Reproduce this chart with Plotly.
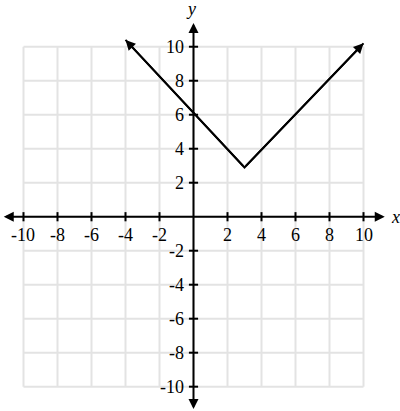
import plotly.graph_objects as go

# absolute value graph
curve_x = [-4.0, 3.0, 10.0]
curve_y = [10.4, 2.9, 10.2]

ticks = [-10, -8, -6, -4, -2, 2, 4, 6, 8, 10]
tick_labels = ["-10", "-8", "-6", "-4", "-2", "2", "4", "6", "8", "10"]
grid_vals = [-10, -8, -6, -4, -2, 0, 2, 4, 6, 8, 10]

serif = "'Liberation Serif', 'Times New Roman', serif"
font = dict(family=serif, size=18, color="black")

fig = go.Figure()

shapes = []
# light grid, only inside -10..10
for g in grid_vals:
    shapes.append(dict(type="line", x0=g, x1=g, y0=-10, y1=10,
                       line=dict(color="#e3e3e3", width=2), layer="below"))
    shapes.append(dict(type="line", x0=-10, x1=10, y0=g, y1=g,
                       line=dict(color="#e3e3e3", width=2), layer="below"))

# tick marks on the axes
for t in ticks:
    shapes.append(dict(type="line", x0=t, x1=t, y0=-0.27, y1=0.27,
                       line=dict(color="black", width=2)))
    shapes.append(dict(type="line", x0=-0.27, x1=0.27, y0=t, y1=t,
                       line=dict(color="black", width=2)))

fig.add_trace(go.Scatter(x=curve_x, y=curve_y, mode="lines",
                         line=dict(color="black", width=2),
                         hoverinfo="skip", showlegend=False))

arrow = dict(xref="x", yref="y", axref="x", ayref="y", text="",
             showarrow=True, arrowhead=2, arrowsize=1.0, arrowwidth=2,
             arrowcolor="black")

annotations = []
# axes with arrows at both ends
annotations.append(dict(arrow, x=11.25, y=0, ax=-11.25, ay=0,
                        arrowside="end+start", startarrowhead=2,
                        startarrowsize=1.0))
annotations.append(dict(arrow, x=0, y=11.4, ax=0, ay=-11.4,
                        arrowside="end+start", startarrowhead=2,
                        startarrowsize=1.0))

# arrowheads on the ends of the curve
annotations.append(dict(arrow, x=curve_x[0], y=curve_y[0],
                        ax=curve_x[1], ay=curve_y[1]))
annotations.append(dict(arrow, x=curve_x[2], y=curve_y[2],
                        ax=curve_x[1], ay=curve_y[1]))

# tick labels
for t, lab in zip(ticks, tick_labels):
    annotations.append(dict(x=t, y=-1.1, text=lab, showarrow=False,
                            xanchor="center", yanchor="middle", font=font))
    annotations.append(dict(x=-0.45, y=t, text=lab, showarrow=False,
                            xanchor="right", yanchor="middle", font=font))

# axis names
annotations.append(dict(x=11.9, y=0, text="<i>x</i>", showarrow=False,
                        xanchor="center", yanchor="middle",
                        font=dict(family=serif, size=18, color="black")))
annotations.append(dict(x=-0.15, y=12.2, text="<i>y</i>", showarrow=False,
                        xanchor="center", yanchor="middle",
                        font=dict(family=serif, size=18, color="black")))

fig.update_layout(
    width=400, height=411,
    margin=dict(l=0, r=0, t=0, b=0),
    paper_bgcolor="white", plot_bgcolor="white",
    xaxis=dict(range=[-11.382, 12.147], visible=False, fixedrange=True),
    yaxis=dict(range=[-11.43, 12.75], visible=False, fixedrange=True),
    shapes=shapes, annotations=annotations,
    showlegend=False,
)

# page has a default body margin; drop it so the figure sits at 0,0
fig.write_html("out.html", config={"displayModeBar": False},
               post_script="document.body.style.margin='0';")
